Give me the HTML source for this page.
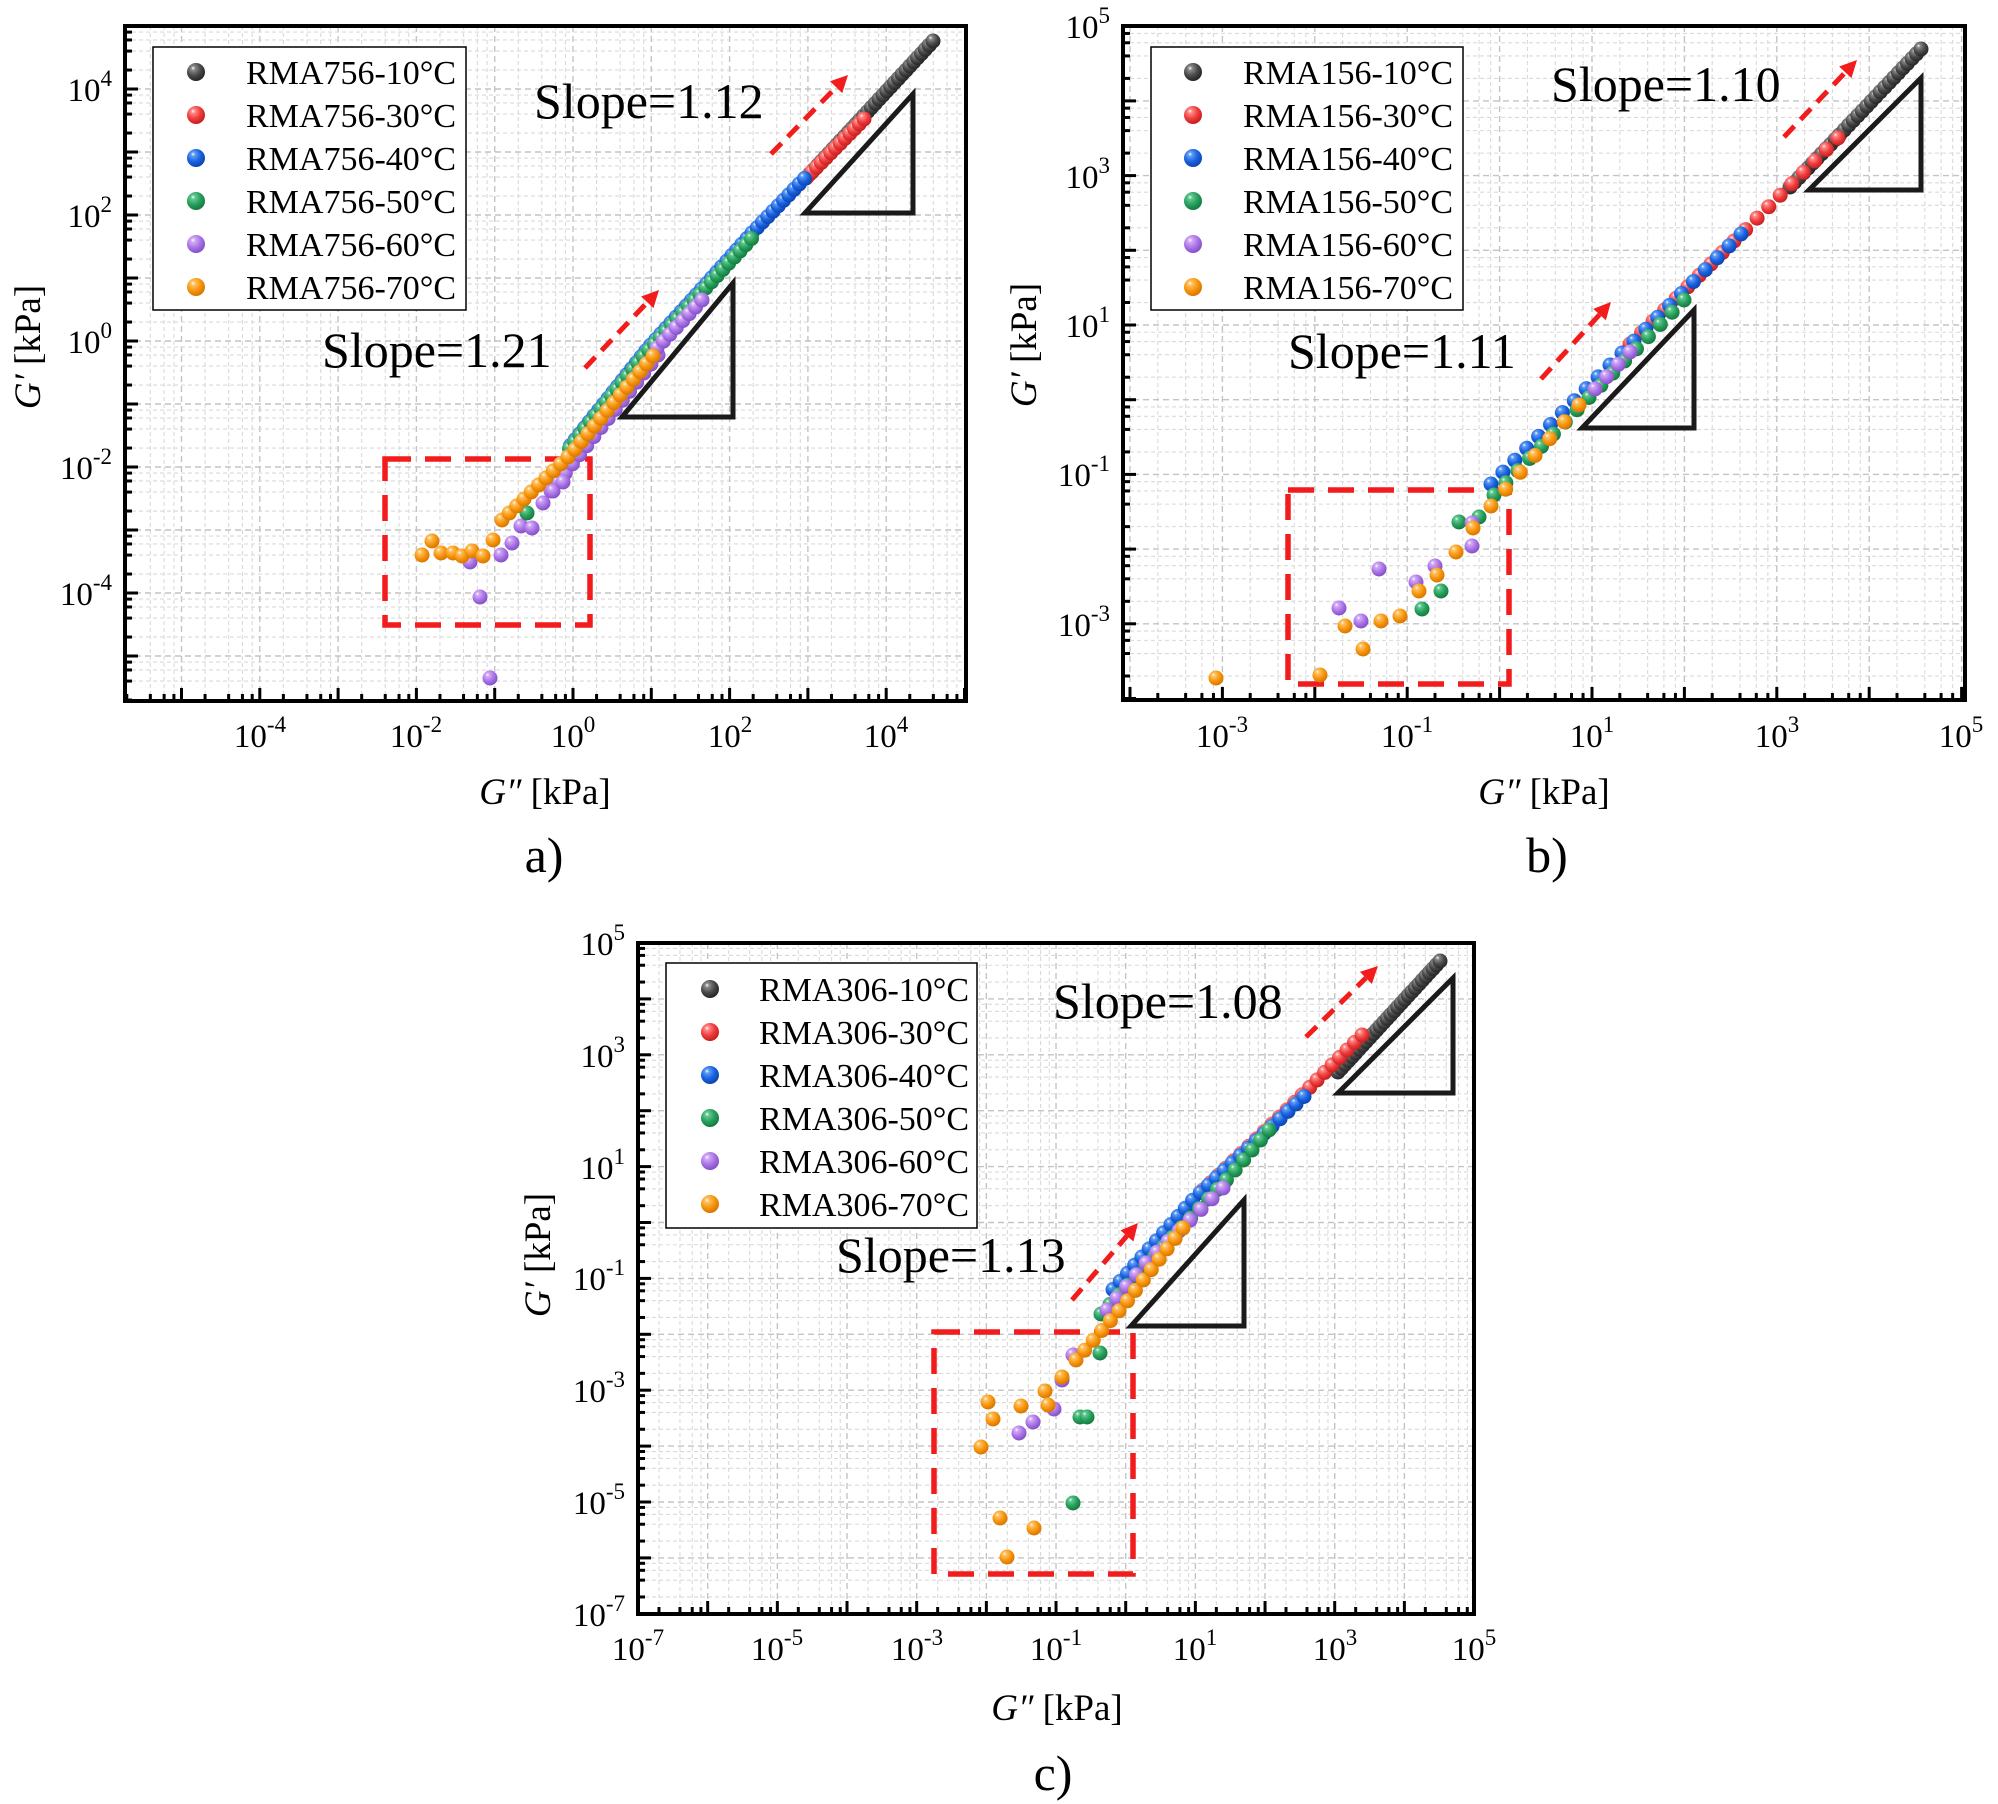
<!DOCTYPE html>
<html><head><meta charset="utf-8">
<style>
html,body{margin:0;padding:0;background:#fff;}
svg{display:block;}
text{font-family:"Liberation Serif","Times New Roman",serif;fill:#000;}
.tl{font-size:33px;}
.sp{font-size:23px;}
.lg{font-size:34px;}
.at{font-size:37px;}
.sl{font-size:50px;}
.pl{font-size:50px;}
</style></head><body>
<svg id="s" width="1998" height="1804" viewBox="0 0 1998 1804" xmlns="http://www.w3.org/2000/svg">
<defs>
<radialGradient id="gk" cx="0.4" cy="0.35" r="0.65" fx="0.33" fy="0.28"><stop offset="0" stop-color="#ffffff"/><stop offset="0.18" stop-color="#8a8a8a"/><stop offset="0.6" stop-color="#4a4a4a"/><stop offset="1" stop-color="#262626"/></radialGradient>
<radialGradient id="gr" cx="0.4" cy="0.35" r="0.65" fx="0.33" fy="0.28"><stop offset="0" stop-color="#ffffff"/><stop offset="0.18" stop-color="#ff8888"/><stop offset="0.6" stop-color="#f03c3c"/><stop offset="1" stop-color="#c41f1f"/></radialGradient>
<radialGradient id="gb" cx="0.4" cy="0.35" r="0.65" fx="0.33" fy="0.28"><stop offset="0" stop-color="#ffffff"/><stop offset="0.18" stop-color="#5d9cf5"/><stop offset="0.6" stop-color="#1a62e0"/><stop offset="1" stop-color="#0c44b0"/></radialGradient>
<radialGradient id="gg" cx="0.4" cy="0.35" r="0.65" fx="0.33" fy="0.28"><stop offset="0" stop-color="#ffffff"/><stop offset="0.18" stop-color="#62c892"/><stop offset="0.6" stop-color="#27a05c"/><stop offset="1" stop-color="#137a40"/></radialGradient>
<radialGradient id="gp" cx="0.4" cy="0.35" r="0.65" fx="0.33" fy="0.28"><stop offset="0" stop-color="#ffffff"/><stop offset="0.18" stop-color="#d2abf6"/><stop offset="0.6" stop-color="#aa74e6"/><stop offset="1" stop-color="#8450c8"/></radialGradient>
<radialGradient id="go" cx="0.4" cy="0.35" r="0.65" fx="0.33" fy="0.28"><stop offset="0" stop-color="#ffffff"/><stop offset="0.18" stop-color="#ffc262"/><stop offset="0.6" stop-color="#f8960e"/><stop offset="1" stop-color="#d67600"/></radialGradient>
</defs>
<rect width="1998" height="1804" fill="#ffffff"/>
<g id="grid"></g>
<g id="ticks" stroke="#000" stroke-width="3"></g>
<g fill="none" stroke="#000" stroke-width="4">
<rect x="125" y="26" width="841" height="675"/>
<rect x="1123" y="26" width="842" height="674"/>
<rect x="638" y="943" width="836" height="671"/>
</g>
<g fill="none" stroke="#1a1a1a" stroke-width="5" stroke-linejoin="miter">
<polygon points="805,213 913,213 913,94"/>
<polygon points="622,417 733,417 733,283"/>
<polygon points="1809,190 1921,190 1921,78"/>
<polygon points="1582,428 1694,428 1694,310"/>
<polygon points="1338,1093 1453,1093 1453,978"/>
<polygon points="1131,1326 1244,1326 1244,1200"/>
</g>
<g fill="none" stroke="#f21c1c" stroke-width="5.5" stroke-dasharray="26 14">
<rect x="385" y="459" width="205" height="166"/>
<rect x="1288" y="490" width="221" height="194"/>
<rect x="934" y="1332" width="199" height="242"/>
</g>
<g id="arrows"></g>
<g id="dots"></g>

<g>
<rect x="153" y="47" width="313" height="263" fill="#fff" stroke="#000" stroke-width="1.5"/>
<circle cx="196" cy="72" r="9" fill="url(#gk)"/>
<circle cx="196" cy="115" r="9" fill="url(#gr)"/>
<circle cx="196" cy="158" r="9" fill="url(#gb)"/>
<circle cx="196" cy="201" r="9" fill="url(#gg)"/>
<circle cx="196" cy="244" r="9" fill="url(#gp)"/>
<circle cx="196" cy="287" r="9" fill="url(#go)"/>
<text class="lg" x="246" y="84">RMA756-10°C</text>
<text class="lg" x="246" y="127">RMA756-30°C</text>
<text class="lg" x="246" y="170">RMA756-40°C</text>
<text class="lg" x="246" y="213">RMA756-50°C</text>
<text class="lg" x="246" y="256">RMA756-60°C</text>
<text class="lg" x="246" y="299">RMA756-70°C</text>
</g>
<g>
<rect x="1151" y="47" width="312" height="263" fill="#fff" stroke="#000" stroke-width="1.5"/>
<circle cx="1193" cy="72" r="9" fill="url(#gk)"/>
<circle cx="1193" cy="115" r="9" fill="url(#gr)"/>
<circle cx="1193" cy="158" r="9" fill="url(#gb)"/>
<circle cx="1193" cy="201" r="9" fill="url(#gg)"/>
<circle cx="1193" cy="244" r="9" fill="url(#gp)"/>
<circle cx="1193" cy="287" r="9" fill="url(#go)"/>
<text class="lg" x="1243" y="84">RMA156-10°C</text>
<text class="lg" x="1243" y="127">RMA156-30°C</text>
<text class="lg" x="1243" y="170">RMA156-40°C</text>
<text class="lg" x="1243" y="213">RMA156-50°C</text>
<text class="lg" x="1243" y="256">RMA156-60°C</text>
<text class="lg" x="1243" y="299">RMA156-70°C</text>
</g>
<g>
<rect x="666" y="963" width="311" height="265" fill="#fff" stroke="#000" stroke-width="1.5"/>
<circle cx="710" cy="989" r="9" fill="url(#gk)"/>
<circle cx="710" cy="1032" r="9" fill="url(#gr)"/>
<circle cx="710" cy="1075" r="9" fill="url(#gb)"/>
<circle cx="710" cy="1118" r="9" fill="url(#gg)"/>
<circle cx="710" cy="1161" r="9" fill="url(#gp)"/>
<circle cx="710" cy="1204" r="9" fill="url(#go)"/>
<text class="lg" x="759" y="1001">RMA306-10°C</text>
<text class="lg" x="759" y="1044">RMA306-30°C</text>
<text class="lg" x="759" y="1087">RMA306-40°C</text>
<text class="lg" x="759" y="1130">RMA306-50°C</text>
<text class="lg" x="759" y="1173">RMA306-60°C</text>
<text class="lg" x="759" y="1216">RMA306-70°C</text>
</g>

<text class="sl" x="534" y="118">Slope=1.12</text>
<text class="sl" x="322" y="367">Slope=1.21</text>
<text class="sl" x="1551" y="101">Slope=1.10</text>
<text class="sl" x="1288" y="368">Slope=1.11</text>
<text class="sl" x="1053" y="1018">Slope=1.08</text>
<text class="sl" x="836" y="1272">Slope=1.13</text>

<text class="tl" x="260" y="747" text-anchor="middle">10<tspan class="sp" dy="-15">-4</tspan></text>
<text class="tl" x="416" y="747" text-anchor="middle">10<tspan class="sp" dy="-15">-2</tspan></text>
<text class="tl" x="573" y="747" text-anchor="middle">10<tspan class="sp" dy="-15">0</tspan></text>
<text class="tl" x="730" y="747" text-anchor="middle">10<tspan class="sp" dy="-15">2</tspan></text>
<text class="tl" x="886" y="747" text-anchor="middle">10<tspan class="sp" dy="-15">4</tspan></text>
<text class="tl" x="112" y="101" text-anchor="end">10<tspan class="sp" dy="-15">4</tspan></text>
<text class="tl" x="112" y="227" text-anchor="end">10<tspan class="sp" dy="-15">2</tspan></text>
<text class="tl" x="112" y="353" text-anchor="end">10<tspan class="sp" dy="-15">0</tspan></text>
<text class="tl" x="112" y="479" text-anchor="end">10<tspan class="sp" dy="-15">-2</tspan></text>
<text class="tl" x="112" y="605" text-anchor="end">10<tspan class="sp" dy="-15">-4</tspan></text>

<text class="tl" x="1222" y="747" text-anchor="middle">10<tspan class="sp" dy="-15">-3</tspan></text>
<text class="tl" x="1407" y="747" text-anchor="middle">10<tspan class="sp" dy="-15">-1</tspan></text>
<text class="tl" x="1592" y="747" text-anchor="middle">10<tspan class="sp" dy="-15">1</tspan></text>
<text class="tl" x="1777" y="747" text-anchor="middle">10<tspan class="sp" dy="-15">3</tspan></text>
<text class="tl" x="1961" y="747" text-anchor="middle">10<tspan class="sp" dy="-15">5</tspan></text>
<text class="tl" x="1110" y="38" text-anchor="end">10<tspan class="sp" dy="-15">5</tspan></text>
<text class="tl" x="1110" y="188" text-anchor="end">10<tspan class="sp" dy="-15">3</tspan></text>
<text class="tl" x="1110" y="337" text-anchor="end">10<tspan class="sp" dy="-15">1</tspan></text>
<text class="tl" x="1110" y="486" text-anchor="end">10<tspan class="sp" dy="-15">-1</tspan></text>
<text class="tl" x="1110" y="636" text-anchor="end">10<tspan class="sp" dy="-15">-3</tspan></text>

<text class="tl" x="638" y="1660" text-anchor="middle">10<tspan class="sp" dy="-15">-7</tspan></text>
<text class="tl" x="777" y="1660" text-anchor="middle">10<tspan class="sp" dy="-15">-5</tspan></text>
<text class="tl" x="917" y="1660" text-anchor="middle">10<tspan class="sp" dy="-15">-3</tspan></text>
<text class="tl" x="1056" y="1660" text-anchor="middle">10<tspan class="sp" dy="-15">-1</tspan></text>
<text class="tl" x="1195" y="1660" text-anchor="middle">10<tspan class="sp" dy="-15">1</tspan></text>
<text class="tl" x="1335" y="1660" text-anchor="middle">10<tspan class="sp" dy="-15">3</tspan></text>
<text class="tl" x="1474" y="1660" text-anchor="middle">10<tspan class="sp" dy="-15">5</tspan></text>
<text class="tl" x="625" y="955" text-anchor="end">10<tspan class="sp" dy="-15">5</tspan></text>
<text class="tl" x="625" y="1067" text-anchor="end">10<tspan class="sp" dy="-15">3</tspan></text>
<text class="tl" x="625" y="1179" text-anchor="end">10<tspan class="sp" dy="-15">1</tspan></text>
<text class="tl" x="625" y="1290" text-anchor="end">10<tspan class="sp" dy="-15">-1</tspan></text>
<text class="tl" x="625" y="1402" text-anchor="end">10<tspan class="sp" dy="-15">-3</tspan></text>
<text class="tl" x="625" y="1514" text-anchor="end">10<tspan class="sp" dy="-15">-5</tspan></text>
<text class="tl" x="625" y="1626" text-anchor="end">10<tspan class="sp" dy="-15">-7</tspan></text>

<text class="at" x="545" y="804" text-anchor="middle"><tspan font-style="italic">G″</tspan> [kPa]</text>
<text class="at" x="1544" y="804" text-anchor="middle"><tspan font-style="italic">G″</tspan> [kPa]</text>
<text class="at" x="1057" y="1720" text-anchor="middle"><tspan font-style="italic">G″</tspan> [kPa]</text>
<text class="at" transform="translate(40,347) rotate(-90)" text-anchor="middle"><tspan font-style="italic">G′</tspan> [kPa]</text>
<text class="at" transform="translate(1036,345) rotate(-90)" text-anchor="middle"><tspan font-style="italic">G′</tspan> [kPa]</text>
<text class="at" transform="translate(550,1255) rotate(-90)" text-anchor="middle"><tspan font-style="italic">G′</tspan> [kPa]</text>

<text class="pl" x="544" y="872" text-anchor="middle">a)</text>
<text class="pl" x="1547" y="872" text-anchor="middle">b)</text>
<text class="pl" x="1053" y="1790" text-anchor="middle">c)</text>
</svg>
<script>
(function(){
var NS='http://www.w3.org/2000/svg';
function el(tag,a,p){var e=document.createElementNS(NS,tag);for(var k in a)e.setAttribute(k,a[k]);p.appendChild(e);return e;}
var G=document.getElementById('grid'),T=document.getElementById('ticks'),D=document.getElementById('dots'),A=document.getElementById('arrows');
var P=[
 {L:125,R:966,T:26,B:701,x0:573,sx:78.3,y0:341,sy:63},
 {L:1123,R:1965,T:26,B:700,x0:1499.6,sx:92.4,y0:399.7,sy:74.7},
 {L:638,R:1474,T:943,B:1614,x0:1125.7,sx:69.67,y0:1222.5,sy:55.9}
];
var ms=[1,2,4,6,8];
P.forEach(function(p){
 for(var d=-9;d<=6;d++){
  ms.forEach(function(m){
   var lv=d+Math.log10(m);
   var px=p.x0+p.sx*lv, py=p.y0-p.sy*lv;
   var maj=(m===1);
   var gs={stroke:maj?'#c4c4c4':'#dadada','stroke-width':maj?1.4:1.1,'stroke-dasharray':maj?'6 4':'4 3'};
   if(px>p.L+2&&px<p.R-2){
     var g1=Object.assign({x1:px,y1:p.T,x2:px,y2:p.B},gs);el('line',g1,G);
   }
   if(px>=p.L-0.5&&px<=p.R+0.5){el('line',{x1:px,y1:p.B,x2:px,y2:p.B-(maj?13:7)},T);}
   if(py>p.T+2&&py<p.B-2){
     var g2=Object.assign({x1:p.L,y1:py,x2:p.R,y2:py},gs);el('line',g2,G);
   }
   if(py>=p.T-0.5&&py<=p.B+0.5){el('line',{x1:p.L,y1:py,x2:p.L+(maj?13:7),y2:py},T);}
  });
 }
});
function arrow(x1,y1,x2,y2){
 var dx=x2-x1,dy=y2-y1,L=Math.sqrt(dx*dx+dy*dy),ux=dx/L,uy=dy/L;
 var hl=17,hw=8.5;
 var bx=x2-ux*hl,by=y2-uy*hl;
 el('line',{x1:x1,y1:y1,x2:bx,y2:by,stroke:'#f21c1c','stroke-width':5,'stroke-dasharray':'15 9'},A);
 el('polygon',{points:x2+','+y2+' '+(bx-uy*hw)+','+(by+ux*hw)+' '+(bx+uy*hw)+','+(by-ux*hw),fill:'#f21c1c'},A);
}
arrow(771,154,848,75);arrow(585,368,659,290);
arrow(1784,137,1857,60);arrow(1541,379,1611,302);
arrow(1306,1037,1378,966);arrow(1072,1300,1138,1223);
function dot(x,y,c){el('circle',{cx:x.toFixed(1),cy:y.toFixed(1),r:7.5,fill:'url(#g'+c+')'},D);}
function pts(c,arr){arr.forEach(function(q){dot(q[0],q[1],c);});}
function chain(arr,n,c,ox,oy){
 ox=ox||0;oy=oy||0;
 var seg=[],tot=0;
 for(var i=1;i<arr.length;i++){var l=Math.hypot(arr[i][0]-arr[i-1][0],arr[i][1]-arr[i-1][1]);seg.push(l);tot+=l;}
 for(var k=0;k<n;k++){
  var t=(n===1)?0:k/(n-1)*tot,j=0;
  while(j<seg.length-1&&t>seg[j]){t-=seg[j];j++;}
  var f=seg[j]?Math.min(1,t/seg[j]):0;
  var x=arr[j][0]+(arr[j+1][0]-arr[j][0])*f,y=arr[j][1]+(arr[j+1][1]-arr[j][1])*f;
  dot(x+ox,y+oy,c);
 }
}
// Panel A
chain([[806,178],[933,41]],34,'k');
chain([[807,177],[864,119]],13,'r');
chain([[572,448],[650,350],[700,295],[753,236],[806,181]],48,'b',-1.5,-2.5);
chain([[570,450],[648,353],[703,293],[752,240]],34,'g',-0.5,-1.5);
chain([[548,488],[655,352]],16,'p',3,3);
chain([[657,348],[702,300]],8,'p');
pts('p',[[470,562],[480,597],[490,678],[501,555],[512,543],[521,526],[532,528],[543,503],[553,491],[563,482]]);
pts('g',[[527,513]]);
pts('o',[[422,555],[432,541],[441,553],[453,553],[462,556],[472,551],[483,556],[493,540]]);
chain([[502,520],[571,454],[653,356]],23,'o');
// Panel B
chain([[1790,187],[1921,49]],30,'k');
chain([[1630,344],[1838,138]],19,'r');
chain([[1493,486],[1743,236]],22,'b',-2,-2);
chain([[1493,494],[1683,299]],17,'g',1,1);
pts('g',[[1422,609],[1441,591],[1459,522],[1479,517]]);
pts('p',[[1339,608],[1361,621],[1379,569],[1416,582],[1435,566],[1472,546],[1472,523]]);
chain([[1595,389],[1630,352]],4,'p');
pts('o',[[1216,678],[1320,675],[1345,626],[1363,649],[1381,621],[1400,616],[1419,591],[1437,575],[1456,552],[1473,528]]);
chain([[1491,506],[1579,405]],7,'o');
// Panel C
chain([[1338,1072],[1440,961]],30,'k');
chain([[1205,1192],[1293,1108],[1364,1037]],22,'r',-2,-2);
chain([[1115,1292],[1197,1200],[1306,1099]],26,'b',-2,-2.5);
chain([[1100,1312],[1229,1174],[1268,1128]],20,'g',1,2);
pts('g',[[1073,1503],[1080,1417],[1087,1417],[1100,1353]]);
pts('p',[[1019,1433],[1033,1422],[1054,1409],[1062,1380],[1073,1355]]);
chain([[1107,1310],[1147,1262],[1223,1188]],12,'p');
pts('o',[[981,1447],[988,1402],[993,1419],[1000,1518],[1007,1557],[1021,1406],[1034,1528],[1045,1391],[1048,1405],[1062,1377]]);
chain([[1076,1360],[1125,1304],[1183,1228]],14,'o');
})();
</script>
</body></html>
